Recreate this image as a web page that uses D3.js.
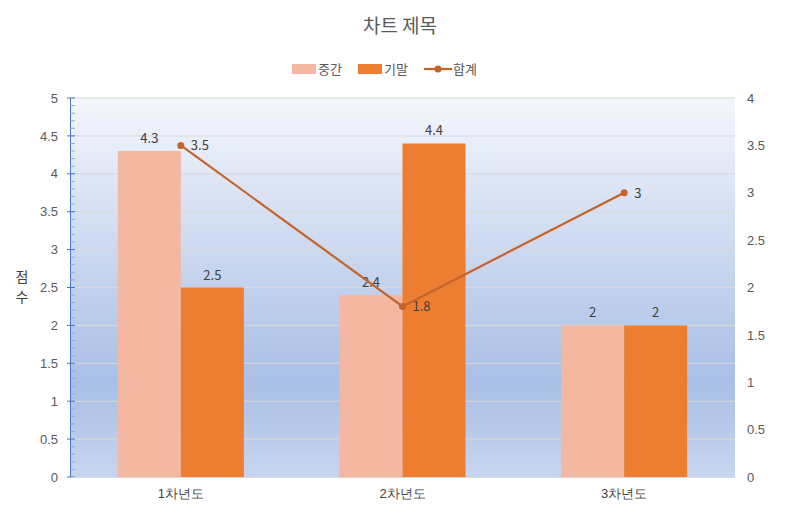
<!DOCTYPE html><html><head><meta charset="utf-8"><script src="https://cdn.jsdelivr.net/npm/d3@7"></script>
<style>body{margin:0;background:#fff;font-family:"Noto Sans CJK KR","Noto Sans",sans-serif}</style></head><body><svg id="c" width="800" height="532"></svg><script>
const categories=["1차년도","2차년도","3차년도"];
const midterm=[4.3,2.4,2];
const finalExam=[2.5,4.4,2];
const total=[3.5,1.8,3];
const leftTicks=[0,0.5,1,1.5,2,2.5,3,3.5,4,4.5,5];
const rightTicks=[0,0.5,1,1.5,2,2.5,3,3.5,4];
const svg=d3.select("#c");
const L=70,R=735,T=98,B=477;
const defs=svg.append("defs");
const g=defs.append("linearGradient").attr("id","bg").attr("x1",0).attr("x2",0).attr("y1",0).attr("y2",1);
g.append("stop").attr("offset","0%").attr("stop-color","#f4f6fc");
g.append("stop").attr("offset","75%").attr("stop-color","#a9bfe6");
g.append("stop").attr("offset","100%").attr("stop-color","#c7d5ef");
svg.append("rect").attr("x",L).attr("y",T).attr("width",R-L).attr("height",B-T).attr("fill","url(#bg)");
const x=d3.scaleBand().domain(categories).range([L,R]);
const yL=d3.scaleLinear().domain([0,5]).range([B,T]);
const yR=d3.scaleLinear().domain([0,4]).range([B,T]);
svg.append("g").selectAll("line").data(leftTicks.slice(1)).join("line").attr("x1",L).attr("x2",R).attr("y1",d=>yL(d)).attr("y2",d=>yL(d)).attr("stroke","#d9d9d9");
const bw=63;
const cx=d=>x(d)+x.bandwidth()/2;
svg.append("g").selectAll("rect").data(categories).join("rect").attr("x",d=>cx(d)-bw).attr("width",bw).attr("y",(d,i)=>yL(midterm[i])).attr("height",(d,i)=>B-yL(midterm[i])).attr("fill","#f4b8a2");
svg.append("g").selectAll("rect").data(categories).join("rect").attr("x",d=>cx(d)).attr("width",bw).attr("y",(d,i)=>yL(finalExam[i])).attr("height",(d,i)=>B-yL(finalExam[i])).attr("fill","#ed7d31");
const lab=(xx,yy,t,a)=>svg.append("text").attr("x",xx).attr("y",yy).attr("text-anchor",a||"middle").attr("font-size",13).attr("fill","#404040").text(t);
categories.forEach((c,i)=>{lab(cx(c)-bw/2,yL(midterm[i])-8,midterm[i]);lab(cx(c)+bw/2,yL(finalExam[i])-8,finalExam[i]);});
const line=d3.line().x((d,i)=>cx(categories[i])).y(d=>yR(d));
svg.append("path").attr("d",line(total)).attr("fill","none").attr("stroke","#c5642a").attr("stroke-width",2.2);
svg.append("g").selectAll("circle").data(total).join("circle").attr("cx",(d,i)=>cx(categories[i])).attr("cy",d=>yR(d)).attr("r",3.5).attr("fill","#c5642a");
total.forEach((v,i)=>lab(cx(categories[i])+10,yR(v)+5,v,"start"));
// left axis
const ax=svg.append("g").attr("transform",`translate(${L},0)`).call(d3.axisLeft(yL).tickValues(leftTicks).tickFormat(d=>d).tickSize(0).tickPadding(12));
ax.select(".domain").attr("stroke","#4472c4");
ax.selectAll("text").attr("font-size",13).attr("fill","#595959");
const minor=d3.range(0,51).map(d=>d/10);
svg.append("g").selectAll("line").data(minor).join("line").attr("x1",d=>Math.round(d*10)%5==0?L-3:L).attr("x2",L+5).attr("y1",d=>yL(d)).attr("y2",d=>yL(d)).attr("stroke",d=>Math.round(d*10)%5==0?"#4472c4":"#8faadc");
const ar=svg.append("g").attr("transform",`translate(${R},0)`).call(d3.axisRight(yR).tickValues(rightTicks).tickFormat(d=>d).tickSize(0).tickPadding(12));
ar.select(".domain").remove();ar.selectAll("text").attr("font-size",13).attr("fill","#595959");
const bx=svg.append("g").attr("transform",`translate(0,${B})`).call(d3.axisBottom(x).tickSize(0).tickPadding(12));
bx.select(".domain").attr("stroke","#d9d9d9");bx.selectAll("text").attr("font-size",13).attr("fill","#404040");
svg.append("text").attr("x",400).attr("y",33).attr("text-anchor","middle").attr("font-size",19).attr("fill","#595959").text("차트 제목");
svg.append("text").attr("x",22).attr("y",282).attr("text-anchor","middle").attr("font-size",14).attr("fill","#404040").text("점");
svg.append("text").attr("x",22).attr("y",302).attr("text-anchor","middle").attr("font-size",14).attr("fill","#404040").text("수");
const lg=svg.append("g").attr("font-size",13).attr("fill","#595959");
lg.append("rect").attr("x",292).attr("y",64).attr("width",24).attr("height",10).attr("fill","#f4b8a2");
lg.append("text").attr("x",318).attr("y",74).text("중간");
lg.append("rect").attr("x",358).attr("y",64).attr("width",24).attr("height",10).attr("fill","#ed7d31");
lg.append("text").attr("x",384).attr("y",74).text("기말");
lg.append("line").attr("x1",424).attr("x2",452).attr("y1",69).attr("y2",69).attr("stroke","#c5642a").attr("stroke-width",2.2);
lg.append("circle").attr("cx",438).attr("cy",69).attr("r",3.5).attr("fill","#c5642a");
lg.append("text").attr("x",453).attr("y",74).text("합계");
</script></body></html>
